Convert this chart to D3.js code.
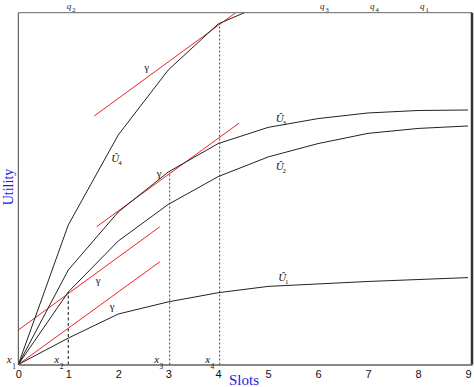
<!DOCTYPE html>
<html>
<head>
<meta charset="utf-8">
<script src="https://cdn.jsdelivr.net/npm/d3@7"></script>
<style>
  html, body { margin: 0; padding: 0; background: #fff; }
  svg { display: block; }
</style>
</head>
<body>
<svg id="chart" width="474" height="387"></svg>
<script>
// ---------- data ----------
const slots = [0, 1, 2, 3, 4, 5, 6, 7, 8, 9];
const xTickLabels = ["0", "1", "2", "3", "4", "5", "6", "7", "8", "9"];
const u1 = [0, 0.075, 0.1435, 0.178, 0.204, 0.222, 0.229, 0.236, 0.2415, 0.247];
const u2 = [0, 0.206, 0.351, 0.455, 0.534, 0.590, 0.628, 0.657, 0.671, 0.678];
const u3 = [0, 0.2686, 0.4335, 0.547, 0.628, 0.674, 0.699, 0.715, 0.722, 0.7234];
const u4Slots = [0, 1, 2, 3, 4, 5];
const u4 = [0, 0.3965, 0.6524, 0.837, 0.968, 1.029];
// gamma tangent segments: [xStart, yStart, xEnd, yEnd]
const gammaX0 = [1.52, 1.568, 0, 0];
const gammaY0 = [0.7064, 0.3917, 0.098, 0];
const gammaX1 = [4.35, 4.414, 2.834, 2.834];
const gammaY1 = [1.0, 0.6856, 0.3917, 0.2922];
const gammaLabelX = [2.57, 2.82, 1.6, 1.88];
const gammaLabelY = [0.841, 0.539, 0.235, 0.161];
// vertical markers at x_i
const markerX = [1, 3.03, 4.03];
const markerTop = [0.206, 0.548, 0.969];
const markerDash = ["3,2.5", "2,2", "2,2"];
const markerColor = ["#111", "#444", "#444"];
// x_i labels
const xiLabelX = [-0.23, 0.72, 2.72, 3.74];
const xiSub = ["1", "2", "3", "4"];
// q labels on top
const qLabelX = [0.97, 6.04, 7.04, 8.04];
const qSub = ["2", "3", "4", "1"];
// U-hat labels
const uLabelX = [5.2, 5.15, 5.15, 1.86];
const uLabelY = [0.236, 0.552, 0.688, 0.577];
const uSub = ["1", "2", "3", "4"];

// ---------- layout ----------
const svg = d3.select("#chart");
const pL = 18.3, pR = 472, pT = 12.7, pB = 364.5;
const x = d3.scaleLinear().domain([0, 9.08]).range([pL, pR]);
const y = d3.scaleLinear().domain([0, 1]).range([pB, pT]);

svg.append("defs").append("clipPath").attr("id", "plotclip")
  .append("rect").attr("x", pL).attr("y", pT)
  .attr("width", pR - pL).attr("height", pB - pT);

const plot = svg.append("g").attr("clip-path", "url(#plotclip)");

// vertical markers
markerX.forEach((mx, i) => {
  plot.append("line")
    .attr("x1", x(mx)).attr("x2", x(mx))
    .attr("y1", y(0)).attr("y2", y(markerTop[i]))
    .attr("stroke", markerColor[i]).attr("stroke-width", 1)
    .attr("stroke-dasharray", markerDash[i]);
});

// gamma lines
gammaX0.forEach((g, i) => {
  plot.append("line")
    .attr("x1", x(gammaX0[i])).attr("y1", y(gammaY0[i]))
    .attr("x2", x(gammaX1[i])).attr("y2", y(gammaY1[i]))
    .attr("stroke", "#e8242a").attr("stroke-width", 1);
});

// utility curves
const line = d3.line().x(d => x(d[0])).y(d => y(d[1]));
[u1, u2, u3].forEach(u => {
  plot.append("path").datum(slots.map((s, i) => [s, u[i]]))
    .attr("d", line).attr("fill", "none")
    .attr("stroke", "#222").attr("stroke-width", 1);
});
plot.append("path").datum(u4Slots.map((s, i) => [s, u4[i]]))
  .attr("d", line).attr("fill", "none")
  .attr("stroke", "#222").attr("stroke-width", 1);

// frame
svg.append("line").attr("x1", pL).attr("x2", pL).attr("y1", pT).attr("y2", pB)
  .attr("stroke", "#444").attr("stroke-width", 1);
svg.append("line").attr("x1", pL).attr("x2", pR).attr("y1", pT).attr("y2", pT)
  .attr("stroke", "#666").attr("stroke-width", 1);
svg.append("line").attr("x1", pR).attr("x2", pR).attr("y1", pT).attr("y2", pB)
  .attr("stroke", "#333").attr("stroke-width", 2.5);

// x axis
const xAxis = d3.axisBottom(x).tickValues(slots).tickFormat((d, i) => xTickLabels[i])
  .tickSize(0).tickSizeOuter(0).tickPadding(6);
const ax = svg.append("g").attr("transform", `translate(0,${pB})`).call(xAxis);
ax.select(".domain").attr("stroke", "#111").attr("stroke-width", 1.2);
ax.selectAll("text").attr("font-family", "Liberation Sans, Arial, sans-serif")
  .attr("font-size", 11).attr("fill", "#111");

// gamma labels
gammaLabelX.forEach((gx, i) => {
  svg.append("text").attr("x", x(gx)).attr("y", y(gammaLabelY[i]))
    .attr("text-anchor", "middle").attr("dominant-baseline", "middle")
    .attr("font-family", "Liberation Serif, Times New Roman, serif")
    .attr("font-size", 11).attr("fill", "#111").text("γ");
});

// x_i labels
xiLabelX.forEach((xx, i) => {
  const t = svg.append("text").attr("x", x(xx)).attr("y", 363)
    .attr("font-family", "Liberation Serif, Times New Roman, serif")
    .attr("font-style", "italic").attr("font-size", 11).attr("fill", "#111");
  t.append("tspan").text("x");
  t.append("tspan").attr("dy", 6).attr("dx", 0.5).attr("font-size", 7.5)
    .attr("font-style", "normal").text(xiSub[i]);
});

// q labels
qLabelX.forEach((qx, i) => {
  const t = svg.append("text").attr("x", x(qx)).attr("y", 8.5)
    .attr("font-family", "Liberation Serif, Times New Roman, serif")
    .attr("font-style", "italic").attr("font-size", 9).attr("fill", "#222");
  t.append("tspan").text("q");
  t.append("tspan").attr("dy", 3).attr("dx", 1).attr("font-size", 6.5)
    .attr("font-style", "normal").text(qSub[i]);
});

// U-hat labels
uLabelX.forEach((ux, i) => {
  const t = svg.append("text").attr("x", x(ux)).attr("y", y(uLabelY[i]))
    .attr("font-family", "Liberation Serif, Times New Roman, serif")
    .attr("font-style", "italic").attr("font-size", 11).attr("fill", "#111");
  t.append("tspan").text("Û");
  t.append("tspan").attr("dy", 3).attr("dx", -1).attr("font-size", 7)
    .attr("font-style", "normal").text(uSub[i]);
});

// axis titles
svg.append("text").attr("x", 229).attr("y", 385)
  .attr("font-family", "Liberation Serif, Times New Roman, serif")
  .attr("font-size", 15).attr("fill", "#1a1adf").text("Slots");
svg.append("text").attr("transform", "translate(13,187) rotate(-90)")
  .attr("text-anchor", "middle")
  .attr("font-family", "Liberation Serif, Times New Roman, serif")
  .attr("font-size", 14).attr("fill", "#1a1adf").text("Utility");
</script>
</body>
</html>
